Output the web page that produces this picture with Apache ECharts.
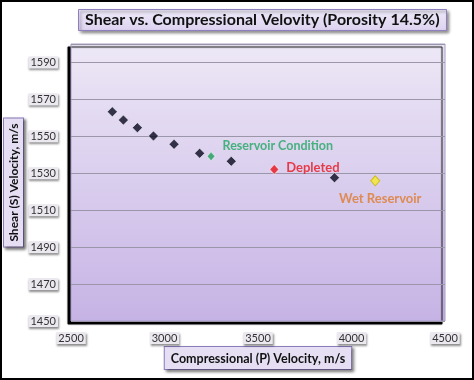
<!DOCTYPE html>
<html>
<head>
<meta charset="utf-8">
<script src="https://cdn.jsdelivr.net/npm/echarts@6/dist/echarts.min.js"></script>
<style>
html,body{margin:0;padding:0;background:#fff;}
#c{width:474px;height:380px;}
</style>
</head>
<body>
<div id="c"></div>
<script>
// Data
const pVelocity = [2721, 2780, 2855, 2941, 3051, 3188, 3357, 3909];
const sVelocity = [1563.3, 1558.8, 1554.7, 1550.2, 1545.7, 1540.8, 1536.5, 1527.6];
const reservoirPoint = [3249, 1539.2];
const depletedPoint = [3587, 1532.1];
const wetPoint = [4127, 1525.9];
const xTicks = [2500, 3000, 3500, 4000, 4500];
const yTicks = [1450, 1470, 1490, 1510, 1530, 1550, 1570, 1590];
const yMax = 1600;

const fam = 'Lato, "Open Sans", sans-serif';
const tickBox = {
  fontFamily: fam, fontSize: 11, color: '#333',
  backgroundColor: '#ebe8ef', padding: [1, 2, 0, 2],
  shadowColor: 'rgba(0,0,0,0.45)', shadowBlur: 2, shadowOffsetX: 1, shadowOffsetY: 2,
  formatter: v => String(v)
};
const chart = echarts.init(document.getElementById('c'));
chart.setOption({
  animation: false,
  backgroundColor: '#fff',
  title: {
    text: 'Shear vs. Compressional Velovity (Porosity 14.5%)',
    left: 78, top: 9,
    padding: [3, 7, 3, 7],
    backgroundColor: new echarts.graphic.LinearGradient(0, 0, 0, 1, [
      {offset: 0, color: '#efeaf8'}, {offset: 1, color: '#dcd2f0'}]),
    borderColor: '#8f7fc0', borderWidth: 1,
    shadowColor: 'rgba(0,0,0,0.45)', shadowBlur: 3, shadowOffsetX: 2, shadowOffsetY: 2,
    textStyle: {fontFamily: fam, fontWeight: 'bold', fontSize: 16, color: '#111'}
  },
  graphic: [{
    type: 'rect', shape: {x: 1, y: 1, width: 472, height: 378},
    style: {fill: 'none', stroke: '#000', lineWidth: 2}, z: 100
  }],
  grid: {
    left: 71, right: 29, top: 44, bottom: 59,
    containLabel: false, outerBoundsMode: 'none',
    show: true,
    backgroundColor: new echarts.graphic.LinearGradient(0, 0, 0, 1, [
      {offset: 0, color: '#ede8f6'}, {offset: 1, color: '#c6b3e5'}]),
    borderColor: '#a79cc4', borderWidth: 1,
    shadowColor: '#000', shadowBlur: 1, shadowOffsetX: -3, shadowOffsetY: 3
  },
  xAxis: {
    type: 'value', min: xTicks[0], max: xTicks[xTicks.length - 1], interval: 500,
    name: 'Compressional (P) Velocity, m/s', nameLocation: 'middle', nameGap: 26,
    nameMoveOverlap: false,
    nameTextStyle: {
      fontFamily: fam, fontWeight: 'bold', fontSize: 12.5, color: '#111',
      backgroundColor: '#e6dff4', borderColor: '#8f7fc0', borderWidth: 1, padding: [5, 6, 4, 6],
      shadowColor: 'rgba(0,0,0,0.45)', shadowBlur: 3, shadowOffsetX: 2, shadowOffsetY: 2
    },
    axisLine: {show: false}, axisTick: {show: false}, splitLine: {show: false},
    axisLabel: Object.assign({margin: 11, alignMinLabel: 'center', alignMaxLabel: 'center'}, tickBox)
  },
  yAxis: {
    type: 'value', min: yTicks[0], max: yMax, interval: 20,
    name: 'Shear (S) Velocity, m/s', nameLocation: 'middle', nameGap: 48,
    nameMoveOverlap: false,
    nameTextStyle: {
      fontFamily: fam, fontWeight: 'bold', fontSize: 12, color: '#111',
      backgroundColor: '#e6dff4', borderColor: '#8f7fc0', borderWidth: 1, padding: [4, 5, 3, 5],
      shadowColor: 'rgba(0,0,0,0.45)', shadowBlur: 3, shadowOffsetX: 2, shadowOffsetY: 2
    },
    axisLine: {show: false}, axisTick: {show: false},
    splitLine: {show: true, lineStyle: {color: '#9c96aa', width: 1}},
    axisLabel: Object.assign({margin: 13, showMaxLabel: false}, tickBox)
  },
  series: [{
    type: 'scatter', symbol: 'diamond', symbolSize: [10, 10],
    data: pVelocity.map((x, i) => [x, sVelocity[i]]),
    itemStyle: {color: '#08081f', borderColor: 'rgba(255,255,255,0.6)', borderWidth: 1}
  }, {
    type: 'scatter', symbol: 'diamond', symbolSize: [8, 9],
    data: [reservoirPoint],
    itemStyle: {color: '#1e9e5a', borderColor: 'rgba(255,255,255,0.6)', borderWidth: 1},
    label: {show: true, formatter: 'Reservoir Condition', position: 'right', offset: [2, -10],
      fontFamily: fam, fontWeight: 'bold', fontSize: 12.5, color: '#1fa862'}
  }, {
    type: 'scatter', symbol: 'diamond', symbolSize: [9, 10],
    data: [depletedPoint],
    itemStyle: {color: '#e8101a', borderColor: 'rgba(255,255,255,0.6)', borderWidth: 1},
    label: {show: true, formatter: 'Depleted', position: 'right', offset: [2, -2],
      fontFamily: fam, fontWeight: 'bold', fontSize: 13, color: '#e8141e'}
  }, {
    type: 'scatter', symbol: 'diamond', symbolSize: [9, 10],
    data: [wetPoint],
    itemStyle: {color: '#f6ec2a', borderColor: '#c9b400', borderWidth: 1},
    label: {show: true, formatter: 'Wet Reservoir', position: 'bottom', offset: [5, 1],
      fontFamily: fam, fontWeight: 'bold', fontSize: 13, color: '#e07a2c'}
  }]
});
</script>
</body>
</html>
